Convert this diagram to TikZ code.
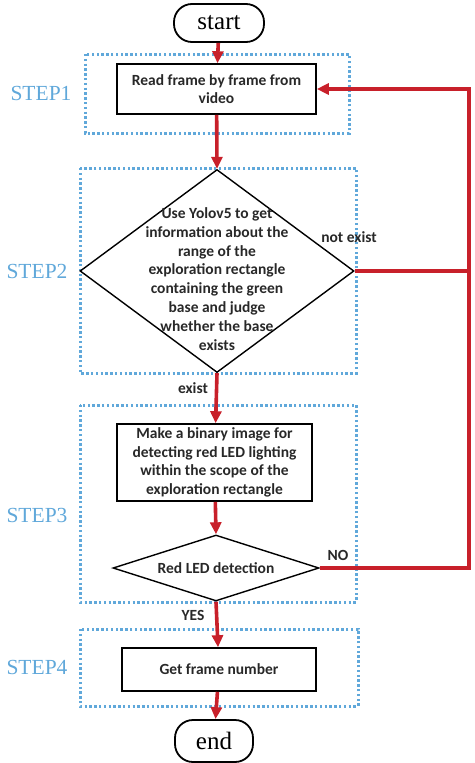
\documentclass[tikz,border=0pt]{standalone}
\usepackage{fontspec}
\setmainfont{Liberation Serif}
\newfontfamily\boxfont{Carlito}
\usetikzlibrary{shapes.geometric,arrows.meta,positioning}
\definecolor{flowred}{RGB}{200,32,42}
\definecolor{stepblue}{RGB}{96,168,218}
\definecolor{boxtext}{RGB}{40,40,40}

\begin{document}
\begin{tikzpicture}[
    x=1pt, y=-1pt,
    terminal/.style={rectangle, draw=black, line width=1.8pt, rounded corners=18pt, font=\fontsize{25}{27}\selectfont},
    process/.style={rectangle, draw=black, line width=1.6pt, align=center, text=boxtext, font=\boxfont\bfseries\fontsize{15.5}{18.5}\selectfont},
    decision/.style={diamond, draw=black, line width=1.4pt, inner sep=0pt},
    decisiontext/.style={align=center, text=boxtext, font=\boxfont\bfseries\fontsize{15.5}{18.8}\selectfont},
    stepframe/.style={draw=stepblue, line width=3pt, dash pattern=on 2.4pt off 2.4pt},
    steplabel/.style={text=stepblue, font=\fontsize{21.5}{23}\selectfont},
    flow/.style={-{Triangle[length=12pt,width=11pt]}, line width=3.6pt, flowred},
    loopline/.style={line width=3.6pt, flowred},
    answer/.style={text=boxtext, font=\boxfont\bfseries\fontsize{15.5}{17}\selectfont}
]
\useasboundingbox (0,0) rectangle (474,763);

% step frames
\draw[stepframe] (85,54) rectangle (349,133);
\draw[stepframe] (80,168) rectangle (356,373);
\draw[stepframe] (80,405) rectangle (356,602);
\draw[stepframe] (80,629) rectangle (358,706);
\node[steplabel] (s1) at (41,93) {STEP1};
\node[steplabel] (s2) at (37,271) {STEP2};
\node[steplabel] (s3) at (37,515) {STEP3};
\node[steplabel] (s4) at (37,667) {STEP4};

% nodes
\node[terminal, minimum width=90pt, minimum height=38pt] (start) at (219,23) {start};
\node[process, minimum width=199pt, minimum height=50pt] (read) at (216.5,89) {Read frame by frame from\\video};
\node[decision, minimum width=274pt, minimum height=203pt] (judge) at (217,271) {};
\node[decisiontext] (judgetext) at (217,279) {Use Yolov5 to get\\information about the\\range of the\\exploration rectangle\\containing the green\\base and judge\\whether the base\\exists};
\node[process, minimum width=195pt, minimum height=77pt] (binary) at (214.5,462.5) {Make a binary image for\\detecting red LED lighting\\within the scope of the\\exploration rectangle};
\node[decision, minimum width=206pt, minimum height=66pt] (led) at (216,568) {};
\node[decisiontext] (ledtext) at (216,568) {Red LED detection};
\node[process, minimum width=194pt, minimum height=43pt] (getnum) at (219,669.5) {Get frame number};
\node[terminal, minimum width=78pt, minimum height=42pt] (end) at (214,741) {end};

\coordinate (looptop) at (469,89);
\coordinate (loopmid) at (469,271);
\coordinate (loopbot) at (469,568);

% connectors
\draw[flow] (start) -- (read);
\draw[flow] (read) -- (judge.north);
\draw[flow] (judge.south) -- (binary);
\draw[flow] (binary) -- (led.north);
\draw[flow] (led.south) -- (getnum);
\draw[flow] (getnum) -- (end);
\draw[loopline] (judge.east) -- (loopmid);
\draw[flow] (led.east) -- (loopbot) -- (looptop) -- (read.east);

% answers
\node[answer] (notexist) at (349,237) {not exist};
\node[answer] (exist) at (193,388) {exist};
\node[answer] (no) at (338,555) {NO};
\node[answer] (yes) at (193,615) {YES};
\end{tikzpicture}
\end{document}
